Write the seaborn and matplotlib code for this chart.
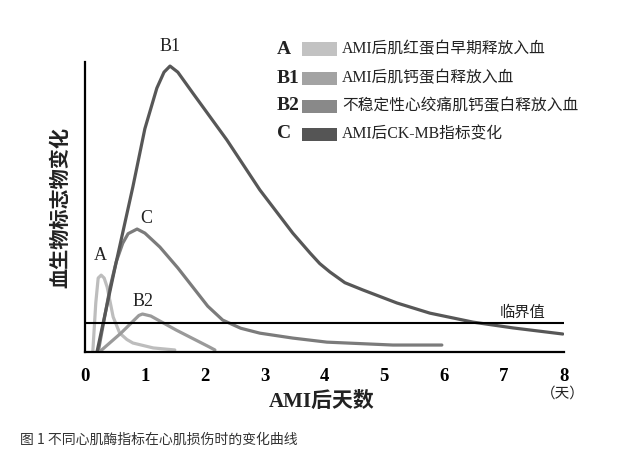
import matplotlib
matplotlib.use("Agg")
import matplotlib.pyplot as plt
import seaborn as sns
import pandas as pd
from matplotlib.patches import Rectangle

# curve data (x = days after AMI, y = relative level 0-100)
a_x = [0.13, 0.18, 0.22, 0.27, 0.32, 0.37, 0.47, 0.58, 0.70, 0.80, 1.14, 1.50]
a_y = [0, 16.9, 25.5, 26.5, 25.5, 22.4, 12.1, 6.5, 4.3, 3.1, 1.4, 0.7]

b1_x = [0.2, 0.5, 0.8, 1.0, 1.2, 1.32, 1.42, 1.55, 1.80, 2.37, 2.92, 3.47, 3.76, 3.92, 4.09,
        4.34, 4.64, 5.21, 5.76, 6.48, 7.15, 7.98]
b1_y = [0, 29, 57, 77, 91, 96.5, 98.6, 96.5, 89.3, 73.1, 55.9, 41.0, 34.1, 30.5, 27.6,
        23.9, 21.4, 16.9, 13.4, 10.3, 8.3, 6.2]

b2_x = [0.24, 0.6, 0.90, 0.96, 1.1, 1.52, 2.07, 2.17]
b2_y = [0, 6.5, 12.6, 13.1, 12.4, 7.6, 1.8, 0.7]

c_x = [0.22, 0.42, 0.52, 0.63, 0.72, 0.87, 1.0, 1.25, 1.55, 1.80, 2.05, 2.3, 2.6, 2.92, 3.47,
       4.04, 5.14, 5.96]
c_y = [0, 22.4, 31.0, 37.5, 40.8, 42.4, 41.0, 36.2, 29.0, 22.4, 15.8, 11.0, 8.2, 6.5, 4.8,
       3.4, 2.4, 2.4]

threshold = 10
x_ticks = [0, 1, 2, 3, 4, 5, 6, 7, 8]

legend_keys = ["A", "B1", "B2", "C"]
legend_texts = ["AMI后肌红蛋白早期释放入血", "AMI后肌钙蛋白释放入血",
                "不稳定性心绞痛肌钙蛋白释放入血", "AMI后CK-MB指标变化"]
legend_colors = ["#c2c2c2", "#a3a3a3", "#898989", "#555555"]

curve_colors = {"A": "#bdbdbd", "B1": "#575757", "B2": "#9a9a9a", "C": "#7b7b7b"}

df = pd.concat([
    pd.DataFrame({"day": a_x, "level": a_y, "curve": "A"}),
    pd.DataFrame({"day": c_x, "level": c_y, "curve": "C"}),
    pd.DataFrame({"day": b2_x, "level": b2_y, "curve": "B2"}),
    pd.DataFrame({"day": b1_x, "level": b1_y, "curve": "B1"}),
])

sns.set_theme(style="white")
serif = ["Liberation Serif", "Noto Sans CJK SC"]
plt.rcParams["font.family"] = serif

fig = plt.figure(figsize=(6.4, 4.58), dpi=100)
ax = fig.add_axes([85 / 640, 106 / 458, 479 / 640, 290 / 458])

for name in ["A", "C", "B2", "B1"]:
    sub = df[df["curve"] == name]
    sns.lineplot(data=sub, x="day", y="level", color=curve_colors[name],
                 linewidth=2.3, estimator=None, sort=False, ax=ax, legend=False)

ax.axhline(threshold, color="black", linewidth=1.5)

ax.set_xlim(0, 8)
ax.set_ylim(0, 100)
ax.set_xticks(x_ticks)
ax.set_xticklabels([str(t) for t in x_ticks], fontsize=13.5, fontweight="bold")
ax.set_yticks([])
ax.set_xlabel("")
ax.set_ylabel("")
ax.tick_params(axis="x", direction="out", length=4, width=1.5, pad=7.5, colors="black")
for s in ["top", "right"]:
    ax.spines[s].set_visible(False)
for s in ["left", "bottom"]:
    ax.spines[s].set_color("black")
    ax.spines[s].set_linewidth(1.6)

# curve labels
lab = dict(fontsize=13, color="#222222", ha="center", va="center")
ax.text(1.42, 105.5, "B1", clip_on=False, **lab)
ax.text(0.25, 33.4, "A", **lab)
ax.text(1.02, 46.0, "C", **lab)
ax.text(0.97, 17.4, "B2", **lab)
ax.text(7.3, 13.6, "临界值", fontsize=11, color="#222222", ha="center", va="center")

# axis titles
fig.text(322 / 640, 1 - 402 / 458, "AMI后天数", fontsize=15, fontweight="bold",
         ha="center", va="center", color="#222222")
fig.text(563 / 640, 1 - 394 / 458, "（天）", fontsize=10.5, ha="center", va="center",
         color="#222222", family=["Noto Sans CJK SC", "DejaVu Sans"])
fig.text(61 / 640, 1 - 207 / 458, "血生物标志物变化", fontsize=14.5, fontweight="bold",
         rotation=90, ha="center", va="center", color="#222222")

# legend
rows = [49, 78, 106, 134]
for key, text, col, yy in zip(legend_keys, legend_texts, legend_colors, rows):
    yf = 1 - yy / 458
    fig.text(277 / 640, yf, key, fontsize=14, fontweight="bold", ha="left", va="center",
             color="#222222")
    fig.patches.append(Rectangle((302 / 640, yf - 6.5 / 458), 35 / 640, 13 / 458,
                                 transform=fig.transFigure, facecolor=col, edgecolor="none"))
    fig.text(342 / 640, yf, text, fontsize=11.3, ha="left", va="center", color="#222222")

# caption
fig.text(20 / 640, 1 - 440 / 458, "图 1 不同心肌酶指标在心肌损伤时的变化曲线",
         fontsize=10, ha="left", va="center", color="#333333",
         family=["Noto Sans CJK SC", "DejaVu Sans"])

fig.savefig("out.png", dpi=100)
